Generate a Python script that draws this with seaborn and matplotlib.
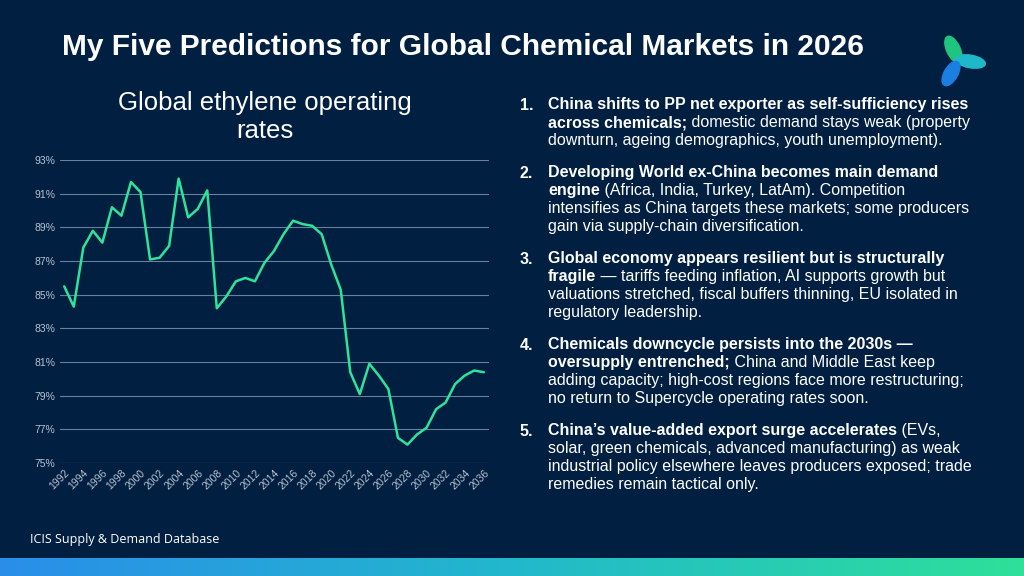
import numpy as np
import pandas as pd
import matplotlib
matplotlib.use("Agg")
import matplotlib.pyplot as plt
import matplotlib.patches as mpatches
from matplotlib.colors import LinearSegmentedColormap
import seaborn as sns

years = list(range(1992, 2037))
rates = [85.5, 84.3, 87.8, 88.8, 88.1, 90.2, 89.7, 91.7, 91.1, 87.1,
         87.2, 87.9, 91.9, 89.6, 90.1, 91.2, 84.2, 84.9, 85.8, 86.0,
         85.8, 86.9, 87.6, 88.6, 89.4, 89.2, 89.1, 88.6, 86.8, 85.3,
         80.4, 79.1, 80.9, 80.2, 79.4, 76.5, 76.1, 76.7, 77.1, 78.2,
         78.6, 79.7, 80.2, 80.5, 80.4]
yticks = list(range(75, 94, 2))

# (bold part, regular part) per line
points = [
    [("China shifts to PP net exporter as self-sufficiency rises", ""),
     ("across chemicals;", " domestic demand stays weak (property"),
     ("", "downturn, ageing demographics, youth unemployment).")],
    [("Developing World ex-China becomes main demand", ""),
     ("engine", " (Africa, India, Turkey, LatAm). Competition"),
     ("", "intensifies as China targets these markets; some producers"),
     ("", "gain via supply-chain diversification.")],
    [("Global economy appears resilient but is structurally", ""),
     ("fragile", " \u2014 tariffs feeding inflation, AI supports growth but"),
     ("", "valuations stretched, fiscal buffers thinning, EU isolated in"),
     ("", "regulatory leadership.")],
    [("Chemicals downcycle persists into the 2030s \u2014", ""),
     ("oversupply entrenched;", " China and Middle East keep"),
     ("", "adding capacity; high-cost regions face more restructuring;"),
     ("", "no return to Supercycle operating rates soon.")],
    [("China\u2019s value-added export surge accelerates", " (EVs,"),
     ("", "solar, green chemicals, advanced manufacturing) as weak"),
     ("", "industrial policy elsewhere leaves producers exposed; trade"),
     ("", "remedies remain tactical only.")],
]

bg = "#011f41"
sns.set_theme(style="dark")
plt.rcParams['font.family'] = ['Liberation Sans', 'DejaVu Sans']

df = pd.DataFrame({"year": years, "rate": rates})

fig = plt.figure(figsize=(10.24, 5.76), dpi=100, facecolor=bg)
ax = fig.add_axes([0.059, 0.196, 0.419, 0.526])
ax.set_facecolor(bg)
sns.lineplot(data=df, x="year", y="rate", ax=ax, color="#2ee39a", linewidth=1.8)
ax.set_ylim(75, 93)
ax.set_xlim(1991.6, 2036.6)
ax.set_yticks(yticks)
ax.set_yticklabels([f"{v}%" for v in yticks])
ax.set_xticks(years[::2])
ax.tick_params(axis="both", colors="#b8c2d0", labelsize=7.5, length=0)
plt.setp(ax.get_xticklabels(), rotation=45, ha="right", rotation_mode="anchor")
ax.yaxis.grid(True, color="#6a7f9c", linewidth=0.8)
ax.xaxis.grid(False)
for s in ax.spines.values():
    s.set_visible(False)
ax.set_xlabel("")
ax.set_ylabel("")

fig.text(62 / 1024, 1 - 47 / 576, "My Five Predictions for Global Chemical Markets in 2026",
         color="white", fontsize=21.5, fontweight="bold", va="center")
fig.text(265 / 1024, 1 - 117 / 576, "Global ethylene operating\nrates", color="white",
         fontsize=18.5, ha="center", va="center", linespacing=1.25)
fig.text(30 / 1024, 1 - 540 / 576, "ICIS Supply & Demand Database", color="white",
         fontsize=9, va="center", family=['Open Sans', 'DejaVu Sans'])

# numbered list
renderer = fig.canvas.get_renderer()
y = 105
fs = 11.5
for i, item in enumerate(points):
    fig.text(520 / 1024, 1 - y / 576, f"{i + 1}.", color="white", fontsize=fs,
             fontweight="bold", va="center")
    for b, r in item:
        x = 548
        if b:
            t = fig.text(x / 1024, 1 - y / 576, b, color="white", fontsize=fs,
                         fontweight="bold", va="center")
            x += t.get_window_extent(renderer).width
        if r:
            fig.text(x / 1024, 1 - y / 576, r, color="white", fontsize=fs, va="center")
        y += 18
    y += 14

# bottom gradient bar
bar = fig.add_axes([0, 0, 1, 18 / 576])
grad = np.linspace(0, 1, 256).reshape(1, -1)
cmap = LinearSegmentedColormap.from_list("g", ["#2a8ee9", "#22b8cc", "#2ee09a"])
bar.imshow(grad, aspect="auto", cmap=cmap)
bar.axis("off")

# logo
logo = fig.add_axes([930 / 1024, 1 - 90 / 576, 60 / 1024, 60 / 576])
logo.set_xlim(-1, 1)
logo.set_ylim(-1, 1)
logo.axis("off")
logo.add_patch(mpatches.Ellipse((-0.22, 0.35), 0.45, 0.95, angle=25, color="#1fc47e"))
logo.add_patch(mpatches.Ellipse((0.35, -0.05), 1.0, 0.42, angle=-10, color="#1fb8c8"))
logo.add_patch(mpatches.Ellipse((-0.3, -0.45), 0.45, 0.9, angle=-30, color="#1a7fe0"))

fig.savefig("out.png", dpi=100, facecolor=bg)
